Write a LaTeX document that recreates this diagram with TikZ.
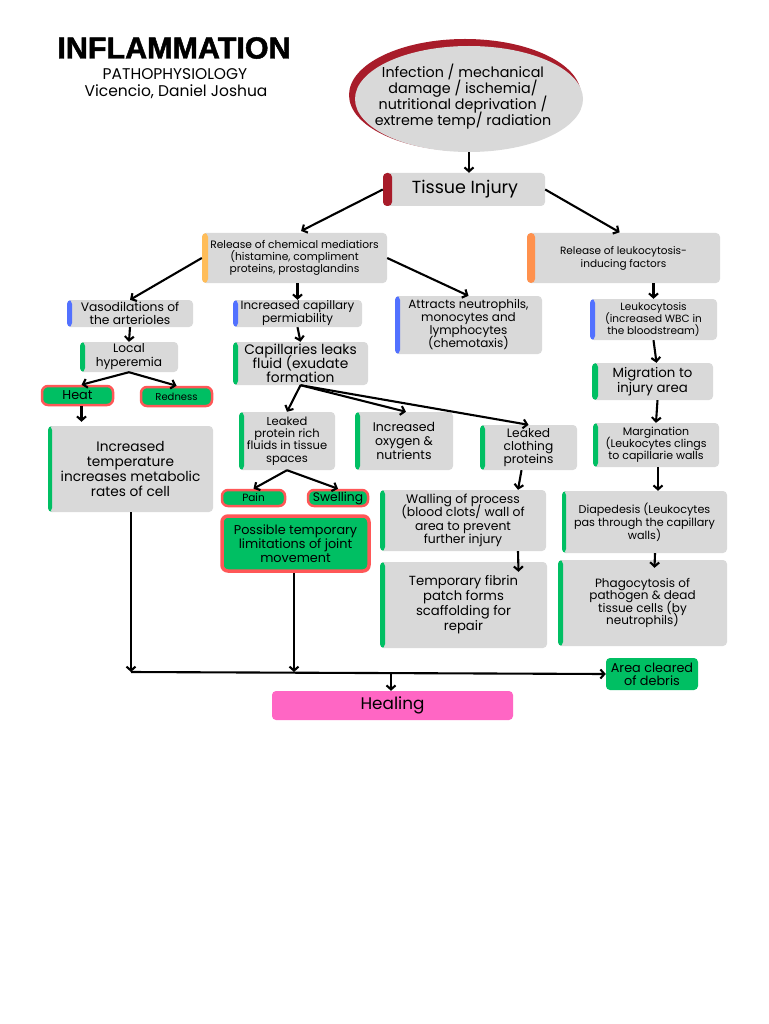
\documentclass[tikz,border=0pt]{standalone}
\usepackage{fontspec}
\setmainfont{Poppins}
\newfontfamily\titlefont[BoldFeatures={FakeBold=1.6}]{Liberation Sans}
\usetikzlibrary{arrows.meta, calc, shapes.geometric}

\definecolor{cardgray}{HTML}{D9D9D9}
\definecolor{injured}{HTML}{A81C2A}
\definecolor{amber}{HTML}{FFBD59}
\definecolor{tangerine}{HTML}{FF914D}
\definecolor{cobalt}{HTML}{5271FF}
\definecolor{leaf}{HTML}{00BF63}
\definecolor{coral}{HTML}{FF5757}
\definecolor{rose}{HTML}{FF66C4}

\newcommand{\fs}[2]{\fontsize{#1}{#2}\selectfont\lineskiplimit=-100pt\relax}

\tikzset{
  card/.style 2 args={fill=cardgray, rounded corners=4pt, align=center, inner sep=0pt,
    minimum width=#1, minimum height=#2},
  stripe/.style 2 args={path picture={
    \fill[#1] (path picture bounding box.south west) rectangle ([xshift=#2]path picture bounding box.north west);}},
  tag/.style 2 args={fill=leaf, draw=coral, line width=2.5pt, rounded corners=6pt, inner sep=0pt,
    minimum width=#1, minimum height=#2},
  arr/.style={line width=2.1pt, -{Straight Barb[length=4pt,width=9pt]}},
}

\begin{document}
\begin{tikzpicture}[x=1pt, y=-1pt]
  \fill[white] (0,0) rectangle (768,1024);
  \useasboundingbox (0,0) rectangle (768,1024);

  % heading
  \node[font=\titlefont\bfseries\fs{30.5}{32}] (title) at (174,48) {INFLAMMATION};
  \node[font=\fs{15.5}{18}] (subject) at (175,74) {PATHOPHYSIOLOGY};
  \node[font=\fs{15.5}{18}] (author) at (176,92) {Vicencio, Daniel Joshua};

  % cause and injury
  \fill[injured] (465,95) ellipse [x radius=116pt, y radius=56pt];
  \node[ellipse, fill=cardgray, minimum width=228, minimum height=106, inner sep=0pt] (cause) at (469,99) {};
  \node[align=center, font=\fs{14.3}{16}] (causetext) at (463,97)
    {Infection / mechanical\\damage / ischemia/\\nutritional deprivation /\\extreme temp/ radiation};
  \node[card={162}{33}, stripe={injured}{9pt}, font=\fs{17.5}{19}] (injury) at (464,189.5) {\hspace{2pt}Tissue Injury};

  % mediators
  \node[card={185}{50}, stripe={amber}{6pt}, font=\fs{10.7}{12}] (chem) at (294.5,258)
    {Release of chemical mediatiors\\(histamine, compliment\\proteins, prostaglandins};
  \node[card={193}{50}, stripe={tangerine}{8pt}, font=\fs{10.5}{13}] (leuk) at (623.5,258)
    {Release of leukocytosis-\\inducing factors};

  % second row
  \node[card={126}{27}, stripe={cobalt}{5pt}, font=\fs{12.3}{13}] (vaso) at (130,313.5) {Vasodilations of\\the arterioles};
  \node[card={129}{27}, stripe={cobalt}{5pt}, font=\fs{11.9}{13}] (capil) at (297.5,313.5) {Increased capillary\\permiability};
  \node[card={147}{58}, stripe={cobalt}{5pt}, font=\fs{12}{13}] (attract) at (468.5,325)
    {Attracts neutrophils,\\monocytes and\\lymphocytes\\(chemotaxis)};
  \node[card={127}{41}, stripe={cobalt}{5pt}, font=\fs{10.5}{12}] (leukocytosis) at (653.5,319.5)
    {Leukocytosis\\(increased WBC in\\the bloodstream)};

  % vascular branch
  \node[card={98}{30}, stripe={leaf}{5pt}, font=\fs{12.2}{14}] (hyper) at (129,357) {Local\\hyperemia};
  \node[tag={71}{19}, font=\fs{12.8}{14}] (heat) at (77.5,395.5) {Heat};
  \node[tag={71}{19}, font=\fs{10}{11}] (redness) at (176.5,396.5) {Redness};
  \node[card={165}{86}, stripe={leaf}{4pt}, font=\fs{13.7}{15}] (temp) at (130.5,469)
    {Increased\\temperature\\increases metabolic\\rates of cell};

  % exudate branch
  \node[card={135}{43}, stripe={leaf}{5pt}, font=\fs{13.8}{14}] (leaks) at (300.5,363.5)
    {Capillaries leaks\\fluid (exudate\\formation};
  \node[card={96}{58}, stripe={leaf}{5pt}, font=\fs{11.5}{12.3}] (protein) at (287,441)
    {Leaked\\protein rich\\fluids in tissue\\spaces};
  \node[card={98}{58}, stripe={leaf}{5pt}, font=\fs{12.5}{14}] (oxygen) at (404,441)
    {Increased\\oxygen \&\\nutrients};
  \node[card={97}{45}, stripe={leaf}{5pt}, font=\fs{12.2}{13}] (clot) at (528.5,447.5)
    {Leaked\\clothing\\proteins};
  \node[tag={63}{16}, font=\fs{10.5}{11}] (pain) at (253.5,498) {Pain};
  \node[tag={60}{16}, font=\fs{12.3}{13}] (swell) at (338,498) {Swelling};
  \node[tag={147}{55}, line width=3.5pt, font=\fs{12.8}{14}, align=center] (limit) at (295.5,543.5)
    {Possible temporary\\limitations of joint\\movement};
  \node[card={166}{61}, stripe={leaf}{5pt}, font=\fs{12.4}{13.5}] (walling) at (463,520.5)
    {Walling of process\\(blood clots/ wall of\\area to prevent\\further injury};
  \node[card={167}{86}, stripe={leaf}{5pt}, font=\fs{13.2}{15}] (fibrin) at (463.5,605)
    {Temporary fibrin\\patch forms\\scaffolding for\\repair};

  % leukocyte branch
  \node[card={121}{37}, stripe={leaf}{6pt}, font=\fs{13.3}{15}] (migration) at (652.5,381.5) {Migration to\\injury area};
  \node[card={126}{44}, stripe={leaf}{5pt}, font=\fs{11}{12}] (margin) at (656,445)
    {Margination\\(Leukocytes clings\\to capillarie walls};
  \node[card={165}{62}, stripe={leaf}{4pt}, font=\fs{11.2}{13}] (diap) at (644.5,522)
    {Diapedesis (Leukocytes\\pas through the capillary\\walls)};
  \node[card={169}{86}, stripe={leaf}{5pt}, font=\fs{12}{12.5}] (phago) at (642.5,603)
    {Phagocytosis of\\pathogen \& dead\\tissue cells (by\\neutrophils)};
  \node[fill=leaf, rounded corners=4pt, minimum width=92, minimum height=32, inner sep=0pt,
    align=center, font=\fs{12.8}{13}] (debris) at (652,674) {Area cleared\\of debris};
  \node[fill=rose, rounded corners=4pt, minimum width=241, minimum height=29, inner sep=0pt,
    font=\fs{16.8}{17}] (heal) at (392.5,705.5) {Healing};

  \coordinate (j1) at (131,672);
  \coordinate (j2) at (294,672);
  \coordinate (j3) at (391,673);

  % connectors
  \draw[arr] (cause.south) -- (cause.south |- injury.north);
  \draw[arr, shorten >=4pt] (injury.west) -- ([xshift=3pt]chem.north);
  \draw[arr, shorten >=1pt] (injury.east) -- ([xshift=-3pt]leuk.north);
  \draw[arr] (chem.west) -- (vaso.north);
  \draw[arr] (chem.south -| capil.north) -- (capil.north);
  \draw[arr] (chem.east) -- (attract.north);
  \draw[arr] (leuk.south -| leukocytosis.north) -- (leukocytosis.north);
  \draw[arr] (vaso.south) -- (hyper.north);
  \draw[arr] (hyper.south) -- ([xshift=4pt]heat.north);
  \draw[arr] (hyper.south) -- (redness.north);
  \draw[arr, shorten >=4pt] ([xshift=4pt]heat.south) -- ([xshift=4pt]heat.south |- temp.north);
  \draw[arr] (capil.south) -- (leaks.north);
  \draw[arr] (leaks.south) -- (protein.north);
  \draw[arr] (leaks.south) -- ([xshift=2pt]oxygen.north);
  \draw[arr] (leaks.south) -- (clot.north);
  \draw[arr] (protein.south) -- (pain.north);
  \draw[arr] (protein.south) -- (swell.north);
  \draw[arr] ([xshift=-7pt]clot.south) -- ([xshift=55pt]walling.north);
  \draw[arr] ([xshift=55pt]walling.south) -- ([xshift=55pt,yshift=-10pt]fibrin.north);
  \draw[arr] (leukocytosis.south) -- ([xshift=4pt]migration.north);
  \draw[arr] ([xshift=5pt]migration.south) -- (margin.north);
  \draw[arr] ([xshift=2pt]margin.south) -- ([xshift=13.5pt]diap.north);
  \draw[arr] ([xshift=10.5pt]diap.south) -- ([xshift=12pt,yshift=-8pt]phago.north);
  \draw[arr] (temp.south -| j1) -- (j1);
  \draw[arr] (limit.south -| j2) -- (j2);
  \draw[arr] (j1) -- (debris.west);
  \draw[arr] (j3) -- (heal.north -| j3);
\end{tikzpicture}
\end{document}
